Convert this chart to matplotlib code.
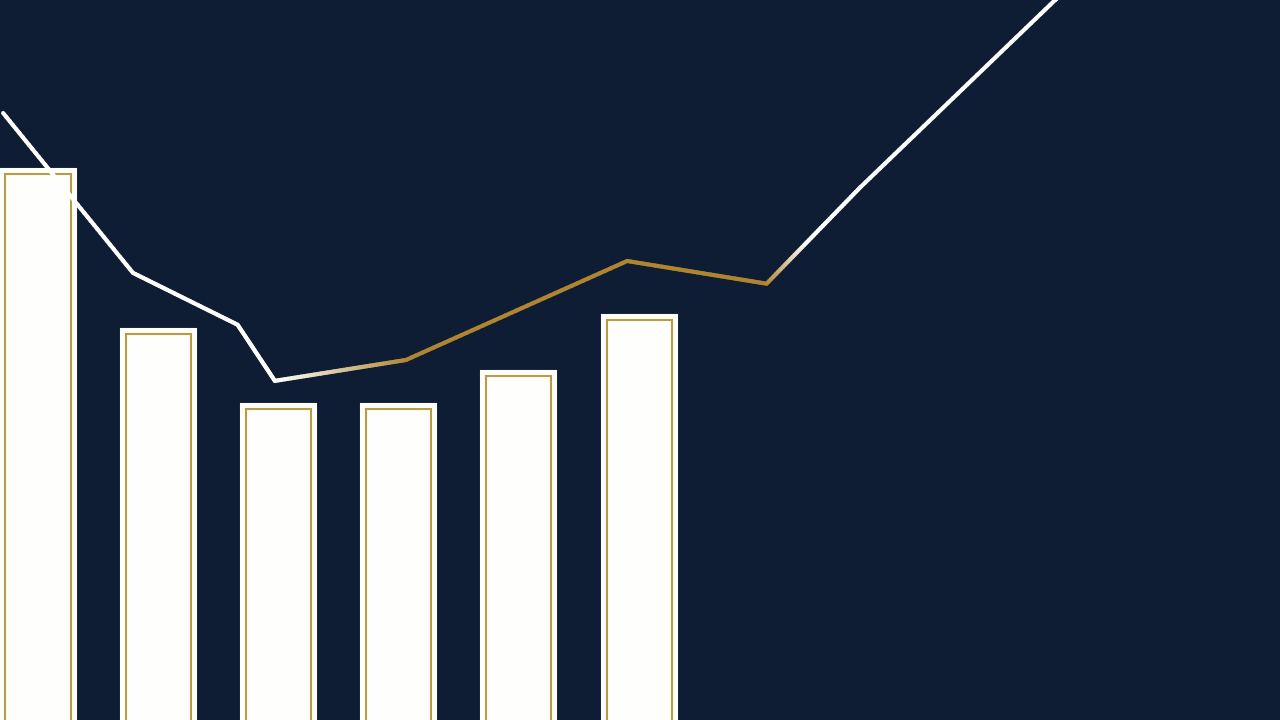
import numpy as np
import matplotlib
matplotlib.use("Agg")
import matplotlib.pyplot as plt
from matplotlib.collections import LineCollection
from matplotlib.colors import to_rgb

# ---- data ----
bar_positions = [0, 1, 2, 3, 4, 5]
bar_values = [76.5, 54.3, 43.9, 43.9, 48.5, 56.3]

line_x = [-0.29, 0.79, 1.66, 1.97, 3.06, 4.90, 6.06, 6.84, 8.46, 8.75]
line_y = [84.3, 62.1, 54.9, 47.1, 50.0, 63.75, 60.6, 74.0, 100.0, 103.5]

# ---- style ----
BG = "#0e1d34"
WHITE = "#fefefc"
GOLD_BAR = "#b89d45"
GOLD_LINE = "#b08530"
BAR_W = 0.625

fig = plt.figure(figsize=(12.8, 7.2), dpi=100, facecolor=BG)
ax = fig.add_axes([0, 0, 1, 1])
ax.set_facecolor(BG)
ax.set_xlim(-0.316, 10.33)
ax.set_ylim(0, 100)
ax.axis("off")

# outer white bars
ax.bar(bar_positions, [v + 2 for v in bar_values], bottom=-2, width=BAR_W,
       color=WHITE, edgecolor="white", linewidth=1.5, zorder=2)

# inner gold frame
inset_x = 5 / 120.2
inset_y = 5 / 7.2
ax.bar(bar_positions, [v - inset_y + 3 for v in bar_values], bottom=-3,
       width=BAR_W - 2 * inset_x, color="none", edgecolor=GOLD_BAR,
       linewidth=1.5, zorder=3)

# gradient line (white -> gold -> white along x)
xs, ys = [], []
for i in range(len(line_x) - 1):
    t = np.linspace(0, 1, 40, endpoint=False)
    xs.extend(line_x[i] + (line_x[i + 1] - line_x[i]) * t)
    ys.extend(line_y[i] + (line_y[i + 1] - line_y[i]) * t)
xs.append(line_x[-1]); ys.append(line_y[-1])
xs = np.array(xs); ys = np.array(ys)
pts = np.column_stack([xs, ys]).reshape(-1, 1, 2)
segs = np.concatenate([pts[:-1], pts[1:]], axis=1)
mid = (xs[:-1] + xs[1:]) / 2

w = np.array(to_rgb("#ffffff")); g = np.array(to_rgb(GOLD_LINE))
def mix(x):
    if x < 2.0:
        f = 0.0
    elif x < 3.1:
        f = (x - 2.0) / 1.1
    elif x < 6.06:
        f = 1.0
    elif x < 6.4:
        f = 1 - (x - 6.06) / 0.34
    else:
        f = 0.0
    return tuple(w * (1 - f) + g * f)
cols = [mix(x) for x in mid]
lc = LineCollection(segs, colors=cols, linewidths=3.0, capstyle="round",
                    joinstyle="round", zorder=4)
ax.add_collection(lc)

fig.savefig("out.png", dpi=100, facecolor=BG)
